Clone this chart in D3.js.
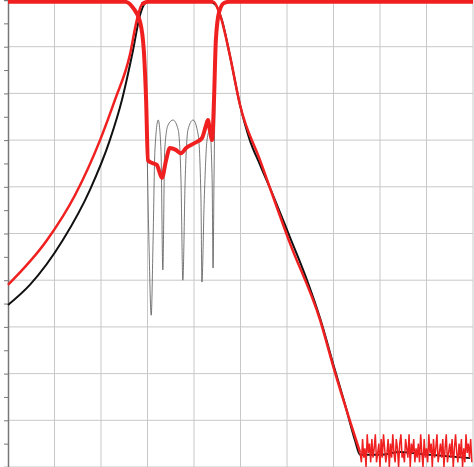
<!DOCTYPE html>
<html><head><meta charset="utf-8">
<script src="https://cdn.jsdelivr.net/npm/d3@7"></script>
<style>body{margin:0;background:#fff}svg{display:block}</style>
</head><body><svg id="c" width="474" height="467"></svg>
<script>
// frequency in grid units (0..10), level in dB (0..-100)
const s21Meas = [[0,-65.3],[0.47,-61],[1.18,-51.4],[1.76,-40.7],[2.19,-30],[2.45,-21.4],[2.69,-10.7],[2.84,-3.2],[2.95,-0.7],[3.05,-0.4],[4.34,-0.4],[4.47,-1.1],[4.60,-4.3],[4.77,-11.8],[4.99,-22.5],[5.2,-30],[5.42,-35.3],[5.74,-42.8],[6.06,-50.7],[6.39,-58.9],[6.71,-68.1],[7.03,-79.2],[7.25,-86.7],[7.46,-94.2],[7.57,-97.4],[8.0,-97.4],[8.43,-96.8],[9.08,-97.4],[9.94,-98.1]];
const s21Sim = [[0,-61],[0.84,-51.4],[1.44,-41.8],[1.98,-30],[2.30,-21.4],[2.62,-11.8],[2.77,-4.3],[2.88,-0.9],[3.0,-0.4],[4.41,-0.4],[4.56,-3.2],[4.77,-11.8],[4.99,-22.5],[5.42,-34.3],[6.06,-52],[6.71,-68.5],[7.03,-79.7],[7.35,-90],[7.57,-96.8]];
const noiseDb = [-99,-94,-98,-96,-100,-93,-97,-95,-99,-94,-98,-96,-93,-99,-97,-95,-100,-94,-98,-93,-96,-99,-97,-94,-100,-95,-98,-93,-97,-99,-94,-96,-100,-95,-93,-98,-97,-99,-94,-96,-98,-93,-100,-95,-97,-94,-99,-96,-98,-95,-99,-93,-97,-100,-94,-98,-96,-99,-93,-97,-95,-100,-94,-98,-96,-93,-99,-97,-95,-98,-94,-100,-96,-93,-99,-97,-95,-98,-94,-100,-96,-93,-97,-99,-95,-98,-94,-100,-96,-99,-93,-97,-95,-98,-94,-99];
const s11Sim = [[0,-0.4],[2.52,-0.4],[2.69,-1.7],[2.84,-4.7],[2.92,-10.7],[2.97,-21.4],[3.01,-34.3],[3.10,-34.9],[3.20,-35.3],[3.31,-38.1],[3.40,-34.3],[3.48,-31.7],[3.61,-32.1],[3.72,-32.8],[3.83,-31.7],[4.02,-30.6],[4.17,-29.6],[4.26,-26.8],[4.30,-25.7],[4.34,-27.8],[4.39,-30],[4.43,-21.4],[4.47,-8.6],[4.54,-2.6],[4.65,-0.6],[4.77,-0.4],[10,-0.4]];
const s11Ideal = [[2.58,-0.6],[2.80,-3.2],[2.92,-12.8],[2.99,-32.1],[3.03,-51.4],[3.08,-67.5],[3.12,-51.4],[3.16,-32.1],[3.23,-25.7],[3.29,-32.1],[3.33,-57.8],[3.37,-32.1],[3.44,-26.8],[3.55,-25.7],[3.66,-27.8],[3.72,-38.5],[3.76,-60],[3.81,-38.5],[3.87,-27.8],[3.98,-25.7],[4.09,-28.9],[4.15,-42.8],[4.17,-60.4],[4.22,-42.8],[4.28,-30],[4.34,-27.8],[4.39,-38.5],[4.41,-57.4],[4.43,-38.5],[4.47,-12.8],[4.54,-3.2],[4.67,-0.6]];

const svg = d3.select("#c");
const x = d3.scaleLinear().domain([0,10]).range([8,473]);
const y = d3.scaleLinear().domain([0,-100]).range([0,467]);

// grid
svg.append("g").selectAll("line").data(d3.range(1,11)).join("line")
  .attr("x1",d=>x(d)).attr("x2",d=>x(d)).attr("y1",0).attr("y2",467)
  .attr("stroke","#c8c8c8").attr("stroke-width",1);
svg.append("g").selectAll("line").data(d3.range(-10,-101,-10)).join("line")
  .attr("x1",8).attr("x2",473).attr("y1",d=>y(d)).attr("y2",d=>y(d))
  .attr("stroke","#c8c8c8").attr("stroke-width",1);

// left axis with minor ticks
const ax = svg.append("g").attr("transform","translate(8,0)")
  .call(d3.axisLeft(y).tickValues(d3.range(0,-101,-5)).tickSize(4).tickFormat(""));
ax.select(".domain").attr("stroke","#777").attr("stroke-width",1.5);
ax.selectAll(".tick line").attr("stroke","#777");

const line = d3.line().x(d=>x(d[0])).y(d=>y(d[1])).curve(d3.curveMonotoneX);

const noise = noiseDb.map((v,i)=>[7.6+i*0.025,v]);

svg.append("path").attr("d",line(s11Ideal)).attr("fill","none").attr("stroke","#555").attr("stroke-width",0.8);
svg.append("path").attr("d",line(s21Meas)).attr("fill","none").attr("stroke","#111").attr("stroke-width",2);
svg.append("path").attr("d",line(s21Sim)).attr("fill","none").attr("stroke","#f02020").attr("stroke-width",2.5);
svg.append("path").attr("d",d3.line().x(d=>x(d[0])).y(d=>y(d[1]))([s21Sim[s21Sim.length-1]].concat(noise)))
  .attr("fill","none").attr("stroke","#f02020").attr("stroke-width",1.5);
svg.append("path").attr("d",line(s11Sim)).attr("fill","none").attr("stroke","#f02020").attr("stroke-width",4);
svg.append("path").attr("d",line(s21Sim.filter(d=>d[0]>=2.88&&d[0]<=4.41))).attr("fill","none").attr("stroke","#f02020").attr("stroke-width",4);
</script></body></html>
